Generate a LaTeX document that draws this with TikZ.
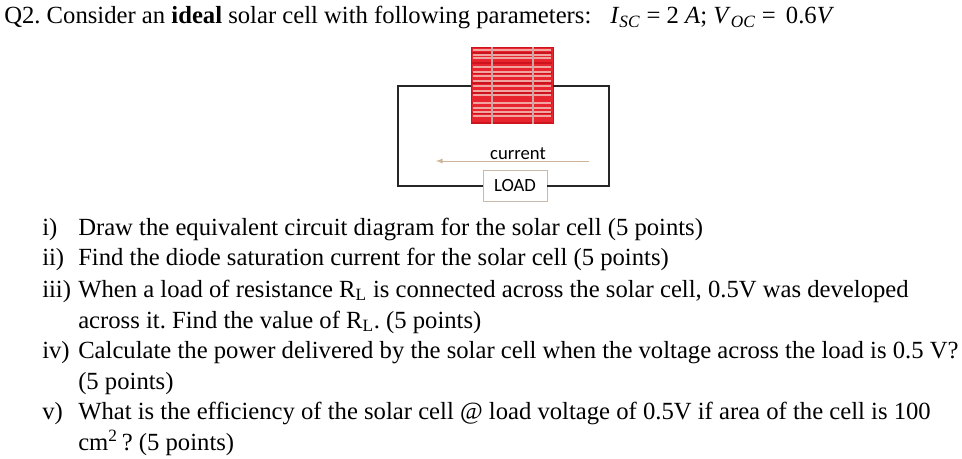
\documentclass[tikz,border=0pt]{standalone}
\usepackage{fontspec}
\setmainfont{Liberation Serif}
\setsansfont{Carlito}
\usetikzlibrary{positioning}
\definecolor{cellred}{RGB}{232,36,46}
\definecolor{darkred}{RGB}{205,20,30}
\definecolor{stripe}{RGB}{240,165,160}
\definecolor{busbar}{RGB}{205,165,165}
\definecolor{loadedge}{RGB}{200,185,170}
\definecolor{arrowtan}{RGB}{205,180,155}
\newcommand{\qvar}[2]{\textit{#1}\textsubscript{\textit{#2}}}
\tikzset{
	qline/.style={anchor=base west,inner sep=0pt,font=\fontsize{18.5pt}{20pt}\selectfont\frenchspacing},
	sanslabel/.style={font=\sffamily\fontsize{14pt}{16pt}\selectfont},
	wire/.style={draw=black!85,line width=1.5pt},
}
\begin{document}
\begin{tikzpicture}[x=0.75pt,y=-0.75pt]
	\useasboundingbox (0,0) rectangle (962,459);
	\node[qline] at (4,24) (title) {Q2. Consider an \textbf{ideal} solar cell with following parameters:};
	\node[qline] at (610,24) (params) {\qvar{I}{SC} = 2 \textit{A}; \qvar{V}{OC} = \,0.6\textit{V}};

	\node[minimum width=61.5pt,minimum height=57pt,inner sep=0pt,fill=cellred,draw=darkred,line width=0.5pt] at (512,85) (cell) {};
	\foreach \y in {53,63,...,123} {
		\draw[darkred,line width=1pt] (472,\y) -- (552,\y);
	}
	\foreach \y in {50,55,58,67,72,76,81,86,91,95,103,108,112,116} {
		\draw[stripe,line width=0.8pt] (473,\y) -- (551,\y);
	}
	\draw[busbar,line width=1.4pt] (492,47) -- (492,124);
	\draw[busbar,line width=1.4pt] (533,47) -- (533,124);

	\node[sanslabel,draw=loadedge,fill=white,line width=0.6pt,minimum width=48pt,minimum height=23.5pt,inner sep=0pt] at (515,186) (load) {\raisebox{-0.75pt}{LOAD}};
	\coordinate (nw) at (398,86);
	\coordinate (ne) at (609,86);
	\draw[wire] (cell.west |- nw) -- (nw) |- (load.west);
	\draw[wire] (cell.east |- ne) -- (ne) |- (load.east);

	\coordinate (from) at (589,161);
	\coordinate (to) at (436,161);
	\draw[arrowtan,line width=0.7pt,-latex] (from) -- (to);
	\node[sanslabel] at (518,154) (current) {current};

	\node[qline] at (42,236) (n1) {i)};
	\node[qline] at (78,236) (l1) {Draw the equivalent circuit diagram for the solar cell (5 points)};
	\node[qline] at (42,266) (n2) {ii)};
	\node[qline] at (78,266) (l2) {Find the diode saturation current for the solar cell (5 points)};
	\node[qline] at (42,297) (n3) {iii)};
	\node[qline] at (78,297) (l3) {When a load of resistance R\textsubscript{L} is connected across the solar cell, 0.5V was developed};
	\node[qline] at (78,328) (l3b) {across it. Find the value of R\textsubscript{L}. (5 points)};
	\node[qline] at (42,358) (n4) {iv)};
	\node[qline] at (78,358) (l4) {Calculate the power delivered by the solar cell when the voltage across the load is 0.5 V?};
	\node[qline] at (78,389) (l4b) {(5 points)};
	\node[qline] at (42,419) (n5) {v)};
	\node[qline] at (78,419) (l5) {What is the efficiency of the solar cell @ load voltage of 0.5V if area of the cell is 100};
	\node[qline] at (78,450) (l5b) {cm\textsuperscript{2}\,? (5 points)};
\end{tikzpicture}
\end{document}
